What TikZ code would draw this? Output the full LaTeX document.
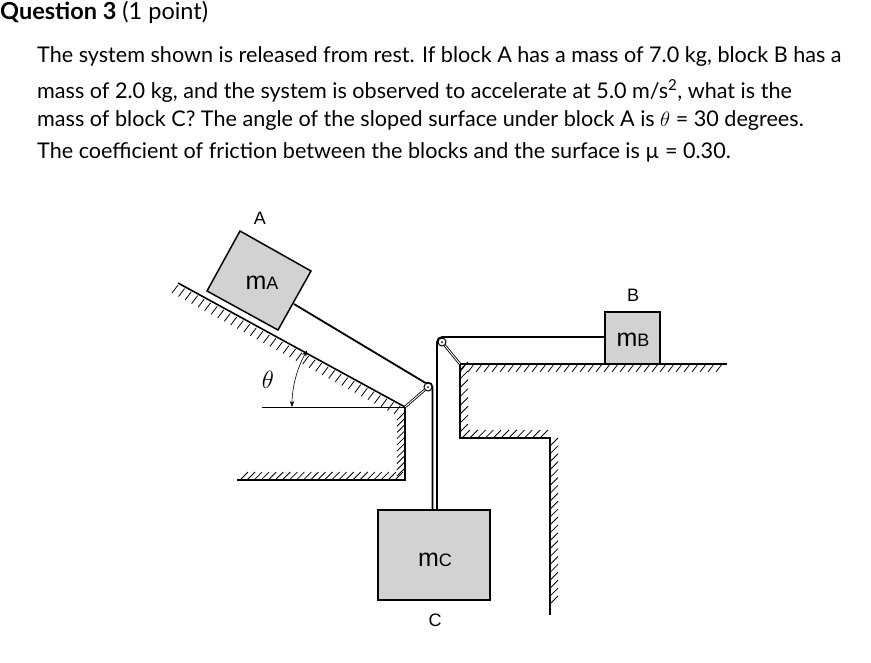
\documentclass[tikz,border=0pt]{standalone}
\usepackage{fontspec}
\setmainfont{Lato}
\newfontfamily\arialf{Liberation Sans}
\usetikzlibrary{calc,arrows.meta}
\tikzset{
  wall/.style={line width=1.6pt},
  tick/.style={line width=0.8pt},
  blk/.style={draw, line width=1.5pt, fill=gray!35},
  lbl/.style={font=\arialf\fontsize{18}{18}\selectfont},
  ml/.style={font=\arialf\fontsize{25}{25}\selectfont},
  txt/.style={anchor=west, inner sep=0pt, font=\fontsize{21.6}{24}\selectfont}
}
\newcommand{\hatchseg}[5]{% from, to, n, dx, dy
  \foreach \t in {0,...,#3} {\draw[tick] ($(#1)!{\t/#3}!(#2)$) -- ++(#4,#5);}}
\begin{document}
\begin{tikzpicture}[x=1pt,y=-1pt]
\useasboundingbox (0,0) rectangle (871,662);
% text
\node[txt, font=\fontsize{23.5}{26}\selectfont] (q) at (0,12) {\textbf{Question 3} (1 point)};
\node[txt] (l1) at (37,57) {The system shown is released from rest. If block A has a mass of 7.0 kg, block B has a};
\node[txt] (l2) at (37,91) {mass of 2.0 kg, and the system is observed to accelerate at 5.0 m/s\textsuperscript{2}, what is the};
\node[txt] (l3) at (37,121) {mass of block C? The angle of the sloped surface under block A is $\theta$ = 30 degrees.};
\node[txt] (l4) at (37,152) {The coefficient of friction between the blocks and the surface is µ = 0.30.};
% left support
\coordinate (i1) at (178,283);
\coordinate (i2) at (405,407);
\coordinate (w2) at (405,480);
\coordinate (b1) at (237,480);
\draw[wall] (i1) -- (i2) -- (w2) -- (b1);
\hatchseg{178,285}{400,406}{34}{-6}{8}
\hatchseg{405,412}{405,468}{9}{-8}{8}
\hatchseg{240,480}{395,480}{22}{8}{-8}
% theta
\draw[line width=0.6pt] (262,407) -- (i2);
\draw[{Stealth[length=6pt]}-{Stealth[length=6pt]}, line width=0.6pt] ($(i2)+(210:113)$) arc[start angle=210, end angle=180, radius=113];
\node (th) at (268,380) {\fontsize{24}{24}\selectfont$\theta$};
% block A
\draw[blk] (207,291) -- (240,231) -- (311,271) -- (278,330) -- cycle;
\node[ml] (mA) at (262,283) {m{\fontsize{18}{18}\selectfont A}};
\node[lbl] (A) at (260,218) {A};
% pulley 1
\coordinate (p1) at (428,387);
\draw[line width=2.6pt] (i2) -- (p1);
\draw[white, line width=0.9pt] (i2) -- (p1);
\draw[line width=1.8pt] (294,304) -- ($(p1)+(-2.2,-3.9)$);
% right ledge
\coordinate (p2) at (442,342);
\coordinate (r1) at (460,364);
\draw[wall] (727,364) -- (r1) -- (460,438) -- (550,438) -- (550,615);
\hatchseg{466,364}{722,364}{32}{-6}{8}
\hatchseg{460,370}{460,432}{7}{8}{-8}
\hatchseg{462,438}{540,438}{10}{8}{-8}
\hatchseg{550,446}{550,604}{20}{8}{-8}
\draw[line width=2.6pt] (p2) -- (r1);
\draw[white, line width=0.9pt] (p2) -- (r1);
% ropes
\draw[line width=1.6pt] (437,510) -- (437,342) arc[start angle=180,end angle=270,radius=5] -- (605,337);
\draw[line width=1.6pt] (432.5,510) -- (432.5,387) arc[start angle=0,end angle=-120,radius=4.5];
\draw[line width=1pt, fill=white] (p1) circle (4);
\fill (p1) circle (1);
\draw[line width=1pt, fill=white] (p2) circle (4);
\fill (p2) circle (1);
% block B
\draw[blk] (605,312) rectangle (660,364);
\node[ml] (mB) at (633,340) {m{\fontsize{18}{18}\selectfont B}};
\node[lbl] (B) at (633,295) {B};
% block C
\draw[blk] (378,510) rectangle (490,600);
\node[ml] (mC) at (435,560) {m{\fontsize{18}{18}\selectfont C}};
\node[lbl] (C) at (435,620) {C};
\end{tikzpicture}
\end{document}
